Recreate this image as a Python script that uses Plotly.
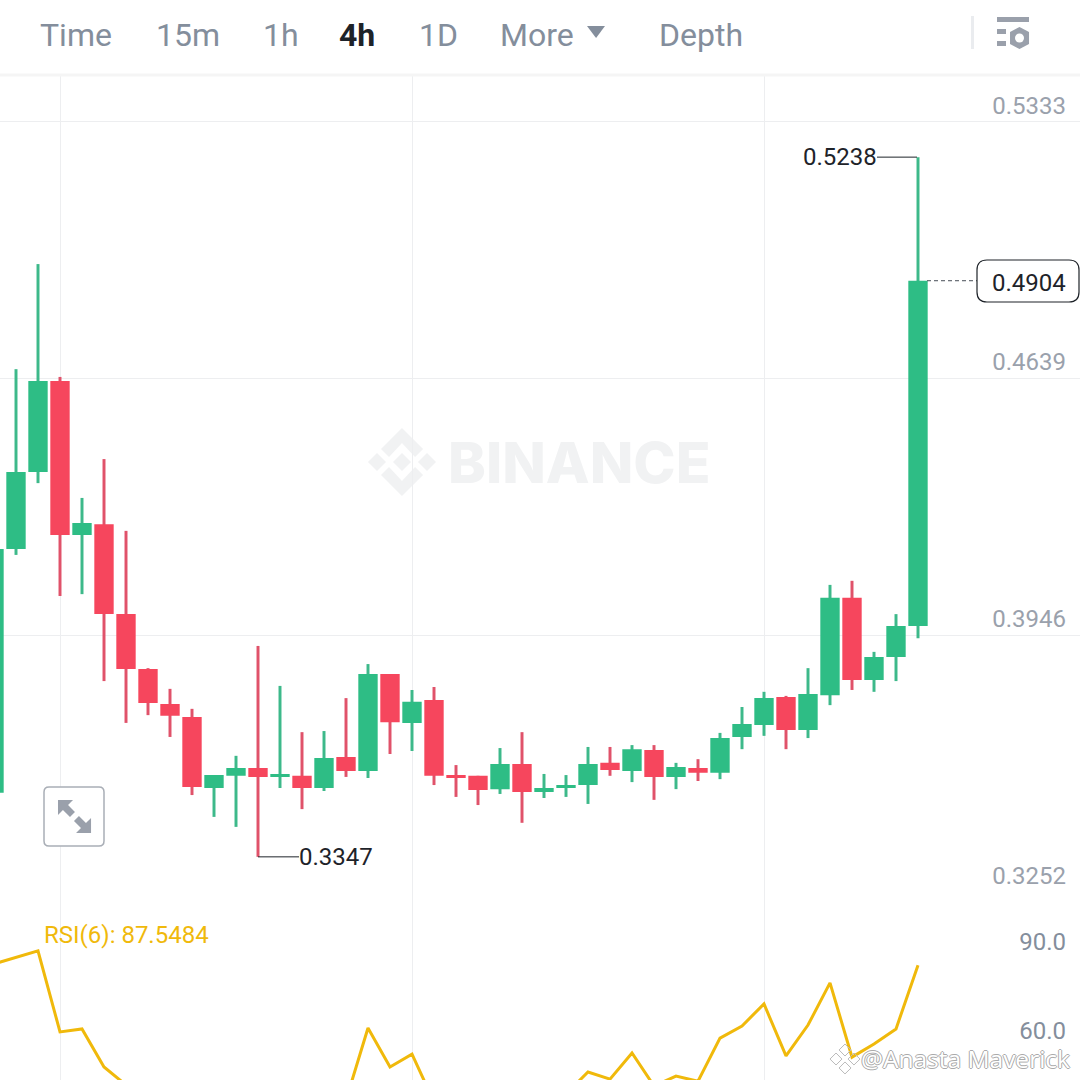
import plotly.graph_objects as go
from plotly.subplots import make_subplots

# 4h candles, index 3/19/35 sit on the vertical gridlines
idx = list(range(43))
opens = [0.3520, 0.4179, 0.4387, 0.4633, 0.4217, 0.4246, 0.4003, 0.3855, 0.3760, 0.3725, 0.3533,
         0.3566, 0.3587, 0.3563, 0.3566, 0.3533, 0.3617, 0.3579, 0.3841, 0.3709, 0.3771, 0.3568,
         0.3566, 0.3530, 0.3598, 0.3522, 0.3533, 0.3541, 0.3601, 0.3579, 0.3636, 0.3563, 0.3587,
         0.3574, 0.3671, 0.3703, 0.3779, 0.3690, 0.3784, 0.4047, 0.3825, 0.3887, 0.3971]
highs = [0.4179, 0.4665, 0.4949, 0.4644, 0.4317, 0.4422, 0.4228, 0.3857, 0.3801, 0.3747, 0.3568,
         0.3620, 0.3917, 0.3809, 0.3684, 0.3687, 0.3776, 0.3868, 0.3841, 0.3798, 0.3806, 0.3595,
         0.3566, 0.3641, 0.3684, 0.3571, 0.3568, 0.3644, 0.3644, 0.3649, 0.3649, 0.3601, 0.3611,
         0.3682, 0.3752, 0.3793, 0.3782, 0.3857, 0.4082, 0.4093, 0.3901, 0.4003, 0.5238]
lows = [0.3520, 0.4163, 0.4357, 0.4052, 0.4057, 0.3822, 0.3709, 0.3730, 0.3671, 0.3514, 0.3455,
        0.3428, 0.3347, 0.3533, 0.3476, 0.3525, 0.3563, 0.3560, 0.3625, 0.3633, 0.3541, 0.3509,
        0.3487, 0.3517, 0.3439, 0.3506, 0.3509, 0.3490, 0.3566, 0.3549, 0.3501, 0.3530, 0.3552,
        0.3557, 0.3638, 0.3674, 0.3638, 0.3668, 0.3757, 0.3798, 0.3793, 0.3822, 0.3938]
closes = [0.4179, 0.4387, 0.4633, 0.4217, 0.4249, 0.4003, 0.3855, 0.3763, 0.3728, 0.3536, 0.3568,
          0.3587, 0.3563, 0.3571, 0.3533, 0.3614, 0.3579, 0.3841, 0.3711, 0.3766, 0.3566, 0.3560,
          0.3528, 0.3598, 0.3522, 0.3533, 0.3541, 0.3598, 0.3582, 0.3638, 0.3563, 0.3590, 0.3574,
          0.3668, 0.3706, 0.3776, 0.3690, 0.3787, 0.4047, 0.3825, 0.3887, 0.3971, 0.4904]
# the stretch below the bottom edge of the pane is a guess, it gets clipped anyway
rsi = [88.0, 90.3, 92.4, 65.1, 66.1, 53.3, 47.2, 44.0, 41.0, 33.0, 34.0, 35.0, 35.0, 36.0, 33.0,
       38.0, 42.1, 66.4, 53.3, 57.6, 41.5, 40.5, 38.8, 42.1, 38.8, 40.5, 44.2, 51.6, 49.2, 58.0,
       46.9, 50.2, 48.5, 63.0, 67.1, 74.5, 57.0, 67.4, 81.6, 56.6, 61.0, 66.1, 87.5484]

price_ticks = [0.5333, 0.4639, 0.3946, 0.3252]
rsi_ticks = [90, 60]
grid_idx = [3, 19, 35]
tabs = ["Time", "15m", "1h", "4h", "1D", "More", "Depth"]
tab_x = [38, 154, 261, 337, 417, 498, 657]

GREEN = "#2EBD85"
RED = "#F6465D"
GRID = "#EDEEF0"
GREY = "#848E9C"
DARK = "#1E2329"
FONT = "Roboto"


def px(x):
    return x / 1080


def py(y):
    return 1 - y / 1080


def poly(points, **kw):
    # closed shape from screen pixels, only used for the app chrome
    path = "M" + " L".join(f"{px(x):.4f},{py(y):.4f}" for x, y in points) + " Z"
    return dict(type="path", xref="paper", yref="paper", path=path, **kw)


def box(x0, y0, x1, y1, **kw):
    return dict(type="rect", xref="paper", yref="paper", x0=px(x0), x1=px(x1), y0=py(y0), y1=py(y1), **kw)


def label(x, y, text, size=24, color=DARK, anchor="left", **font):
    return dict(xref="paper", yref="paper", x=px(x), y=py(y), text=text, showarrow=False,
                xanchor=anchor, yanchor="middle", font=dict(family=font.pop("family", FONT), size=size, color=color, **font))


fig = make_subplots(rows=2, cols=1, shared_xaxes=True, vertical_spacing=0)

# wicks as thin bars so the bodies keep their exact height
wick_colors = ["#3DB98A" if c >= o else "#E0526A" for o, c in zip(opens, closes)]
fig.add_trace(go.Bar(x=idx, base=lows, y=[h - l for h, l in zip(highs, lows)], width=0.135,
                     marker=dict(color=wick_colors, line_width=0)), row=1, col=1)
fig.add_trace(go.Candlestick(x=idx, open=opens, high=highs, low=lows, close=closes,
                             increasing=dict(fillcolor=GREEN, line=dict(color=GREEN, width=0)),
                             decreasing=dict(fillcolor=RED, line=dict(color=RED, width=0))), row=1, col=1)
fig.add_trace(go.Scatter(x=idx, y=rsi, mode="lines", line=dict(color="#F0B90B", width=3)), row=2, col=1)

shapes = []
annotations = []

# header
shapes.append(box(0, 73.5, 1080, 76.5, fillcolor="#F5F5F5", line_width=0))
for name, x in zip(tabs, tab_x):
    if name == "4h":
        annotations.append(label(x, 35, name, size=32, color=DARK, weight=700))
    else:
        annotations.append(label(x, 35, name, size=32, color=GREY))
shapes.append(poly([(587, 26), (605, 26), (596, 38)], fillcolor=GREY, line_width=0))
shapes.append(box(971, 16, 974, 49, fillcolor="#EAECEF", line_width=0))
shapes.append(box(997, 17, 1029, 22, fillcolor="#9AA0AB", line_width=0))
shapes.append(box(997, 29, 1006, 34, fillcolor="#9AA0AB", line_width=0))
shapes.append(box(997, 41, 1006, 46, fillcolor="#9AA0AB", line_width=0))
shapes.append(poly([(1019.5, 27), (1029, 32), (1029, 44), (1019.5, 49), (1010, 44), (1010, 32)],
                   fillcolor="#9AA0AB", line_width=0))
shapes.append(dict(type="circle", xref="paper", yref="paper", x0=px(1015), x1=px(1024), y0=py(33.5), y1=py(42.5),
                   fillcolor="white", line_width=0))

# BINANCE watermark
WM = "#F1F2F3"
cx, cy = 402, 462
for dx in (-25, 25, 0):
    shapes.append(poly([(cx + dx, cy - 9), (cx + dx + 9, cy), (cx + dx, cy + 9), (cx + dx - 9, cy)],
                       fillcolor=WM, line_width=0, layer="below"))
for s in (1, -1):
    shapes.append(poly([(cx, cy - 34 * s), (cx + 21, cy - 13 * s), (cx + 13, cy - 5 * s), (cx, cy - 19 * s),
                        (cx - 13, cy - 5 * s), (cx - 21, cy - 13 * s)],
                       fillcolor=WM, line_width=0, layer="below"))
annotations.append(label(446, 462, "BINANCE", size=57, color=WM, family="Inter", weight=800))

# expand button
shapes.append(dict(type="path", xref="paper", yref="paper", layer="above", fillcolor="white", line=dict(color="#A9AEB6", width=1.5),
                   path=f"M{px(49)},{py(787)} L{px(99)},{py(787)} Q{px(104)},{py(787)} {px(104)},{py(792)} "
                        f"L{px(104)},{py(841)} Q{px(104)},{py(846)} {px(99)},{py(846)} L{px(49)},{py(846)} "
                        f"Q{px(44)},{py(846)} {px(44)},{py(841)} L{px(44)},{py(792)} Q{px(44)},{py(787)} {px(49)},{py(787)} Z"))
shapes.append(poly([(58, 800), (73, 800), (68, 805), (75, 812), (70, 817), (63, 810), (58, 815)],
                   fillcolor="#9AA0AB", line_width=0))
shapes.append(poly([(91, 833), (76, 833), (81, 828), (74, 821), (79, 816), (86, 823), (91, 818)],
                   fillcolor="#9AA0AB", line_width=0))

# high, low and last price callouts
shapes.append(dict(type="line", xref="paper", yref="y", x0=px(877), x1=px(917), y0=highs[42], y1=highs[42],
                   line=dict(color=DARK, width=1)))
shapes.append(dict(type="line", xref="paper", yref="y", x0=px(258), x1=px(299), y0=lows[12], y1=lows[12],
                   line=dict(color=DARK, width=1)))
annotations.append(dict(xref="paper", yref="y", x=px(879), y=highs[42], text=f"{highs[42]:.4f}", showarrow=False,
                        xanchor="right", font=dict(family=FONT, size=24, color=DARK)))
annotations.append(dict(xref="paper", yref="y", x=px(297), y=lows[12], text=f"{lows[12]:.4f}", showarrow=False,
                        xanchor="left", font=dict(family=FONT, size=24, color=DARK)))
shapes.append(dict(type="line", xref="paper", yref="y", x0=px(927), x1=px(977), y0=closes[42], y1=closes[42],
                   line=dict(color="#474D57", width=1, dash="4px,3px")))
shapes.append(dict(type="path", xref="paper", yref="paper", fillcolor="white", line=dict(color=DARK, width=1.2),
                   path=f"M{px(987)},{py(260)} L{px(1069)},{py(260)} Q{px(1079)},{py(260)} {px(1079)},{py(270)} "
                        f"L{px(1079)},{py(292)} Q{px(1079)},{py(302)} {px(1069)},{py(302)} L{px(987)},{py(302)} "
                        f"Q{px(977)},{py(302)} {px(977)},{py(292)} L{px(977)},{py(270)} Q{px(977)},{py(260)} {px(987)},{py(260)} Z"))
annotations.append(label(1029, 283, f"{closes[42]:.4f}", anchor="center"))

annotations.append(label(42, 935, f"RSI(6): {rsi[42]:.4f}", color="#F0B90B"))

# screenshot watermark
annotations.append(label(859, 1058, "@Anasta Maverick", size=24.5, color="white", family="Open Sans",
                         shadow="1px 0 0 #aaa, -1px 0 0 #aaa, 0 1px 0 #aaa, 0 -1px 0 #aaa"))
mx, my = 845, 1059
for dx, dy in ((0, -9), (-9, 0), (9, 0), (0, 9)):
    shapes.append(poly([(mx + dx, my + dy - 6), (mx + dx + 6, my + dy), (mx + dx, my + dy + 6), (mx + dx - 6, my + dy)],
                       fillcolor="rgba(0,0,0,0)", line=dict(color="#BBBBBB", width=1)))

fig.update_layout(
    width=1080, height=1080, margin=dict(l=0, r=0, t=0, b=0),
    paper_bgcolor="white", plot_bgcolor="white",
    showlegend=False, barmode="overlay", boxgap=0.12, boxgroupgap=0,
    shapes=shapes, annotations=annotations,
)
for row in (1, 2):
    fig.update_xaxes(range=[0.2727, 49.3636], tickvals=grid_idx, showticklabels=False, ticks="",
                     showgrid=True, gridcolor=GRID, gridwidth=1, zeroline=False, showline=False,
                     rangeslider_visible=False, row=row, col=1)
fig.update_yaxes(domain=[py(892), py(75)], range=[0.3252, 0.5460], side="right", tickvals=price_ticks,
                 ticktext=[f"{t:.4f}" for t in price_ticks], ticklabelposition="inside top", ticklabelstandoff=11,
                 tickfont=dict(family=FONT, size=24, color="#9AA1AC"), showgrid=True, gridcolor=GRID,
                 zeroline=False, showline=False, ticks="", row=1, col=1)
fig.update_yaxes(domain=[0, py(892)], range=[48.9, 112.2], side="right", tickvals=rsi_ticks,
                 ticktext=[f"{t:.1f}" for t in rsi_ticks], ticklabelposition="inside top", ticklabelstandoff=11,
                 tickfont=dict(family=FONT, size=24, color=GREY), showgrid=False,
                 zeroline=False, showline=False, ticks="", row=2, col=1)

# the page's default body margin would shift everything by 8px
fig.write_html("out.html", config={"displayModeBar": False},
               post_script="document.body.style.margin='0';document.body.style.overflow='hidden';")
